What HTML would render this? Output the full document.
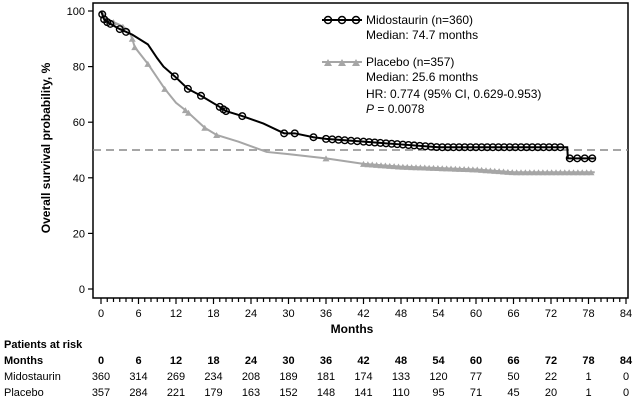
<!DOCTYPE html>
<html><head><meta charset="utf-8"><style>
body{margin:0;background:#fff;width:635px;height:404px;overflow:hidden;font-family:"Liberation Sans",Arial,sans-serif}
svg text{font-family:"Liberation Sans",Arial,sans-serif}
</style></head><body>
<svg id="s" width="635" height="404" xmlns="http://www.w3.org/2000/svg">
<rect x="93" y="3" width="535" height="295" fill="none" stroke="#000" stroke-width="1.5"/>
<g id="ax"></g>
<line x1="93" y1="150" x2="628" y2="150" stroke="#888" stroke-width="1.5" stroke-dasharray="8,5"/>
<polyline id="pl" fill="none" stroke="#a6a6a6" stroke-width="2"/>
<g id="mkp"></g>
<polyline id="mi" fill="none" stroke="#000" stroke-width="2"/>
<g id="mk"></g>
<text transform="translate(50,148) rotate(-90)" text-anchor="middle" font-size="12" font-weight="bold">Overall survival probability, %</text>
<text x="352" y="333" text-anchor="middle" font-size="12" font-weight="bold">Months</text>
<line x1="322" y1="20" x2="362" y2="20" stroke="#000" stroke-width="2"/>
<circle cx="328" cy="20" r="3.5" fill="none" stroke="#000" stroke-width="1.5"/><circle cx="342" cy="20" r="3.5" fill="none" stroke="#000" stroke-width="1.5"/><circle cx="356" cy="20" r="3.5" fill="none" stroke="#000" stroke-width="1.5"/>
<text x="366" y="24" font-size="12">Midostaurin (n=360)</text>
<text x="366" y="39" font-size="12">Median: 74.7 months</text>
<line x1="322" y1="62" x2="362" y2="62" stroke="#a6a6a6" stroke-width="2"/>
<path d="M324,66 l4,-7 l4,7z M338,66 l4,-7 l4,7z M352,66 l4,-7 l4,7z" fill="#a6a6a6"/>
<text x="366" y="66" font-size="12">Placebo (n=357)</text>
<text x="366" y="81" font-size="12">Median: 25.6 months</text>
<text x="366" y="98" font-size="12">HR: 0.774 (95% CI, 0.629-0.953)</text>
<text x="366" y="113" font-size="12"><tspan font-style="italic">P</tspan> = 0.0078</text>
<g font-size="11">
<text x="4" y="348" font-weight="bold">Patients at risk</text>
<text x="4" y="364" font-weight="bold">Months</text>
<text x="4" y="380">Midostaurin</text>
<text x="4" y="396">Placebo</text>
<g id="rt"></g>
</g>
</svg>
<script>
const NS="http://www.w3.org/2000/svg";
const X=m=>101+6.25*m, Y=p=>289-2.78*p;
function el(t,a,p){const e=document.createElementNS(NS,t);for(const k in a)if(k!='text')e.setAttribute(k,a[k]);if(a.text!==undefined){e.textContent=a.text;}document.getElementById(p).appendChild(e);return e;}
for(let m=0;m<=84;m++){el('line',{x1:X(m),x2:X(m),y1:298,y2:m%6==0?304:302,stroke:'#000','stroke-width':1.2},'ax');}
for(let m=0;m<=84;m+=6){el('text',{x:X(m),y:317,'text-anchor':'middle','font-size':11,text:String(m)},'ax');}
for(let p=0;p<=100;p+=20){el('line',{x1:88,x2:93,y1:Y(p),y2:Y(p),stroke:'#000','stroke-width':1.2},'ax');el('text',{x:85,y:Y(p)+4,'text-anchor':'end','font-size':11,text:String(p)},'ax');}
const mid=[[0,100],[0.5,97],[1,96],[3,93.5],[4,92.5],[5,91.5],[7.5,88],[9,83],[10,80],[11.8,76.5],[13.9,72],[16,69.5],[19,65.5],[20,64],[22.6,62.2],[26,59.5],[29.3,56],[31,56],[34,54.6],[36,54],[42,53],[48,52],[54,51],[60,51],[66,51],[74.6,51],[74.7,47],[79,47]];
const pla=[[0,100],[1,97],[3,95],[4.5,93],[5,90],[5.4,87],[7.5,81],[10.2,72],[12,67],[13.7,64],[16.6,58],[18.5,55.4],[22,53],[26.5,49.3],[30,48.5],[36,47],[42,45],[48,44],[60,43],[66,42],[79,42]];
document.getElementById('mi').setAttribute('points',mid.map(d=>X(d[0])+','+Y(d[1])).join(' '));
document.getElementById('pl').setAttribute('points',pla.map(d=>X(d[0])+','+Y(d[1])).join(' '));
function interp(a,m){for(let i=1;i<a.length;i++){if(m<=a[i][0]){const t=(m-a[i-1][0])/(a[i][0]-a[i-1][0]);return a[i-1][1]+t*(a[i][1]-a[i-1][1]);}}return a[a.length-1][1];}
const pp=[1,2,3.5,5,5.4,7.5,10.2,13.5,14,16.6,18.5,36];for(let m=42;m<=79;m+=0.7)pp.push(m);
for(const m of pp){const x=X(m),y=Y(interp(pla,m));el('path',{d:`M${x-3.5},${y+3}l3.5,-6l3.5,6z`,fill:'#a6a6a6'},'mkp');}
const cm=[0.2,0.5,1,1.5,3,4,11.8,13.9,16,19,19.6,20,22.6,29.3,31,34,36,37,38,39,40,41];
for(let m=42;m<=74;m+=0.9)cm.push(m);for(let m=75;m<=79;m+=1.2)cm.push(m);
for(const m of cm){el('circle',{cx:X(m),cy:Y(interp(mid,m)),r:3.3,fill:'none',stroke:'#000','stroke-width':1.4},'mk');}
const mo=[0,6,12,18,24,30,36,42,48,54,60,66,72,78,84];
const a=[360,314,269,234,208,189,181,174,133,120,77,50,22,1,0];
const b=[357,284,221,179,163,152,148,141,110,95,71,45,20,1,0];
mo.forEach((m,i)=>{const x=X(m);el('text',{x:x,y:364,'text-anchor':'middle','font-weight':'bold',text:String(m)},'rt');el('text',{x:x,y:380,'text-anchor':'middle',text:String(a[i])},'rt');el('text',{x:x,y:396,'text-anchor':'middle',text:String(b[i])},'rt');});
</script>
</body></html>
